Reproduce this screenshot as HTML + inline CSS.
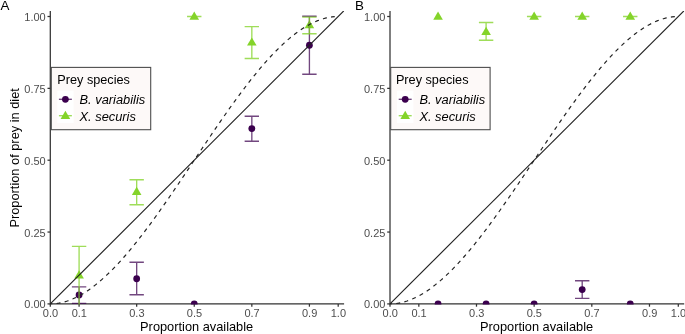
<!DOCTYPE html>
<html><head><meta charset="utf-8"><title>Figure</title>
<style>
html,body{margin:0;padding:0;background:#fff;}
svg{display:block;}
text{font-family:"Liberation Sans",Arial,sans-serif;}
.tick{font-size:11px;fill:#4d4d4d;}
.title{font-size:12.8px;fill:#000;}
.leg{font-size:12.7px;fill:#000;}
.tag{font-size:13.4px;fill:#000;}
.lab{font-size:12.85px;}
</style></head><body>
<svg xmlns="http://www.w3.org/2000/svg" width="685" height="334" viewBox="0 0 685 334">
<rect width="685" height="334" fill="#fff"/>

<path d="M50.30,11.00V303.90H344.10" fill="none" stroke="#333" stroke-width="1.25"/>
<line x1="47.50" x2="50.30" y1="303.90" y2="303.90" stroke="#333" stroke-width="1.25"/>
<text class="tick" text-anchor="end" x="45.70" y="308">0.00</text>
<line x1="47.50" x2="50.30" y1="232.05" y2="232.05" stroke="#333" stroke-width="1.25"/>
<text class="tick" text-anchor="end" x="45.70" y="237">0.25</text>
<line x1="47.50" x2="50.30" y1="160.20" y2="160.20" stroke="#333" stroke-width="1.25"/>
<text class="tick" text-anchor="end" x="45.70" y="165">0.50</text>
<line x1="47.50" x2="50.30" y1="88.35" y2="88.35" stroke="#333" stroke-width="1.25"/>
<text class="tick" text-anchor="end" x="45.70" y="93">0.75</text>
<line x1="47.50" x2="50.30" y1="16.50" y2="16.50" stroke="#333" stroke-width="1.25"/>
<text class="tick" text-anchor="end" x="45.70" y="21">1.00</text>
<line y1="303.90" y2="306.70" x1="50.30" x2="50.30" stroke="#333" stroke-width="1.25"/>
<text class="tick" text-anchor="middle" x="50.50" y="317.10">0.0</text>
<line y1="303.90" y2="306.70" x1="79.09" x2="79.09" stroke="#333" stroke-width="1.25"/>
<text class="tick" text-anchor="middle" x="79.29" y="317.10">0.1</text>
<line y1="303.90" y2="306.70" x1="136.67" x2="136.67" stroke="#333" stroke-width="1.25"/>
<text class="tick" text-anchor="middle" x="136.87" y="317.10">0.3</text>
<line y1="303.90" y2="306.70" x1="194.25" x2="194.25" stroke="#333" stroke-width="1.25"/>
<text class="tick" text-anchor="middle" x="194.45" y="317.10">0.5</text>
<line y1="303.90" y2="306.70" x1="251.83" x2="251.83" stroke="#333" stroke-width="1.25"/>
<text class="tick" text-anchor="middle" x="252.03" y="317.10">0.7</text>
<line y1="303.90" y2="306.70" x1="309.41" x2="309.41" stroke="#333" stroke-width="1.25"/>
<text class="tick" text-anchor="middle" x="309.61" y="317.10">0.9</text>
<line y1="303.90" y2="306.70" x1="338.20" x2="338.20" stroke="#333" stroke-width="1.25"/>
<text class="tick" text-anchor="middle" x="338.40" y="317.10">1.0</text>
<text class="title" text-anchor="middle" x="196.65" y="331.2">Proportion available</text>
<text class="title" text-anchor="middle" transform="translate(18.8,157.85) rotate(-90)">Proportion of prey in diet</text>
<text class="tag" x="0.40" y="9.8">A</text>
<clipPath id="clipA"><rect x="49.90" y="11.0" width="294.20" height="293.52"/></clipPath>
<g clip-path="url(#clipA)">
<circle cx="79.09" cy="294.99" r="3.4" fill="#3b004e"/>
<circle cx="136.67" cy="278.75" r="3.4" fill="#3b004e"/>
<circle cx="194.25" cy="303.90" r="3.4" fill="#3b004e"/>
<circle cx="251.83" cy="128.59" r="3.4" fill="#3b004e"/>
<circle cx="309.41" cy="45.24" r="3.4" fill="#3b004e"/>
<path d="M79.09,270.21L83.89,278.41H74.29Z" fill="#84D42A"/>
<path d="M136.67,186.86L141.47,195.06H131.87Z" fill="#84D42A"/>
<path d="M194.25,11.55L199.05,19.75H189.45Z" fill="#84D42A"/>
<path d="M251.83,37.42L256.63,45.62H247.03Z" fill="#84D42A"/>
<path d="M309.41,20.17L314.21,28.37H304.61Z" fill="#84D42A"/>
<path d="M71.89,286.80H86.29M79.09,286.80V303.33M71.89,303.33H86.29" stroke="#3b004e" stroke-opacity="0.72" stroke-width="1.35" fill="none"/>
<path d="M129.47,262.23H143.87M136.67,262.23V294.70M129.47,294.70H143.87" stroke="#3b004e" stroke-opacity="0.72" stroke-width="1.35" fill="none"/>
<path d="M244.63,116.23H259.03M251.83,116.23V141.23M244.63,141.23H259.03" stroke="#3b004e" stroke-opacity="0.72" stroke-width="1.35" fill="none"/>
<path d="M302.21,16.21H316.61M309.41,16.21V74.27M302.21,74.27H316.61" stroke="#3b004e" stroke-opacity="0.72" stroke-width="1.35" fill="none"/>
<path d="M71.89,246.42H86.29M79.09,246.42V318.27M71.89,318.27H86.29" stroke="#84D42A" stroke-opacity="0.78" stroke-width="1.35" fill="none"/>
<path d="M129.47,179.74H143.87M136.67,179.74V204.75M129.47,204.75H143.87" stroke="#84D42A" stroke-opacity="0.78" stroke-width="1.35" fill="none"/>
<path d="M187.05,16.50H201.45M194.25,16.50V16.50M187.05,16.50H201.45" stroke="#84D42A" stroke-opacity="0.78" stroke-width="1.35" fill="none"/>
<path d="M244.63,26.56H259.03M251.83,26.56V58.46M244.63,58.46H259.03" stroke="#84D42A" stroke-opacity="0.78" stroke-width="1.35" fill="none"/>
<path d="M302.21,17.13H316.61M309.41,17.13V33.74M302.21,33.74H316.61" stroke="#84D42A" stroke-opacity="0.78" stroke-width="1.35" fill="none"/>
<line x1="50.30" y1="303.90" x2="346.84" y2="7.88" stroke="#222" stroke-width="1.15"/>
<path d="M50.30,303.90 L53.14,303.82 L55.99,303.57 L58.83,303.16 L61.68,302.59 L64.52,301.87 L67.37,300.99 L70.21,299.97 L73.06,298.80 L75.90,297.49 L78.74,296.04 L81.59,294.45 L84.43,292.74 L87.28,290.89 L90.12,288.93 L92.97,286.83 L95.81,284.62 L98.66,282.30 L101.50,279.86 L104.34,277.32 L107.19,274.67 L110.03,271.92 L112.88,269.07 L115.72,266.12 L118.57,263.09 L121.41,259.96 L124.26,256.75 L127.10,253.46 L129.94,250.09 L132.79,246.64 L135.63,243.12 L138.48,239.53 L141.32,235.88 L144.17,232.17 L147.01,228.40 L149.86,224.57 L152.70,220.69 L155.54,216.76 L158.39,212.79 L161.23,208.77 L164.08,204.72 L166.92,200.63 L169.77,196.51 L172.61,192.36 L175.46,188.18 L178.30,183.99 L181.14,179.77 L183.99,175.54 L186.83,171.30 L189.68,167.04 L192.52,162.79 L195.37,158.53 L198.21,154.27 L201.06,150.02 L203.90,145.77 L206.74,141.54 L209.59,137.32 L212.43,133.12 L215.28,128.94 L218.12,124.78 L220.97,120.65 L223.81,116.56 L226.66,112.50 L229.50,108.47 L232.34,104.49 L235.19,100.55 L238.03,96.66 L240.88,92.82 L243.72,89.04 L246.57,85.31 L249.41,81.64 L252.26,78.04 L255.10,74.51 L257.94,71.05 L260.79,67.66 L263.63,64.35 L266.48,61.12 L269.32,57.98 L272.17,54.92 L275.01,51.96 L277.86,49.09 L280.70,46.31 L283.55,43.64 L286.39,41.07 L289.23,38.61 L292.08,36.26 L294.92,34.03 L297.77,31.91 L300.61,29.92 L303.46,28.05 L306.30,26.30 L309.15,24.69 L311.99,23.21 L314.83,21.87 L317.68,20.67 L320.52,19.62 L323.37,18.71 L326.21,17.95 L329.06,17.35 L331.90,16.91 L334.75,16.62" fill="none" stroke="#222" stroke-width="1.2" stroke-dasharray="4.0,4.28" stroke-dashoffset="2.0"/>
</g>
<rect x="51.30" y="67.4" width="99.4" height="62.3" fill="#fdf9f8" stroke="#4d4d4d" stroke-width="1.1"/>
<rect x="57.30" y="90.7" width="16.3" height="32.4" fill="#fff"/>
<text class="leg" x="57.30" y="84.30000000000001">Prey species</text>
<circle cx="65.40" cy="99.30" r="3.4" fill="#3b004e"/>
<path d="M65.40,110.75L70.20,118.95H60.60Z" fill="#84D42A"/>
<line x1="58.90" x2="71.90" y1="99.30000000000001" y2="99.30000000000001" stroke="#3b004e" stroke-opacity="0.72" stroke-width="1.35"/>
<line x1="58.90" x2="71.90" y1="115.7" y2="115.7" stroke="#84D42A" stroke-opacity="0.78" stroke-width="1.35"/>
<text class="leg lab" font-style="italic" x="79.50" y="104.2">B. variabilis</text>
<text class="leg lab" font-style="italic" x="79.50" y="120.5">X. securis</text>
<path d="M390.00,11.00V303.90H684.21" fill="none" stroke="#333" stroke-width="1.25"/>
<line x1="387.20" x2="390.00" y1="303.90" y2="303.90" stroke="#333" stroke-width="1.25"/>
<text class="tick" text-anchor="end" x="385.40" y="308">0.00</text>
<line x1="387.20" x2="390.00" y1="232.05" y2="232.05" stroke="#333" stroke-width="1.25"/>
<text class="tick" text-anchor="end" x="385.40" y="237">0.25</text>
<line x1="387.20" x2="390.00" y1="160.20" y2="160.20" stroke="#333" stroke-width="1.25"/>
<text class="tick" text-anchor="end" x="385.40" y="165">0.50</text>
<line x1="387.20" x2="390.00" y1="88.35" y2="88.35" stroke="#333" stroke-width="1.25"/>
<text class="tick" text-anchor="end" x="385.40" y="93">0.75</text>
<line x1="387.20" x2="390.00" y1="16.50" y2="16.50" stroke="#333" stroke-width="1.25"/>
<text class="tick" text-anchor="end" x="385.40" y="21">1.00</text>
<line y1="303.90" y2="306.70" x1="390.00" x2="390.00" stroke="#333" stroke-width="1.25"/>
<text class="tick" text-anchor="middle" x="390.20" y="317.10">0.0</text>
<line y1="303.90" y2="306.70" x1="418.83" x2="418.83" stroke="#333" stroke-width="1.25"/>
<text class="tick" text-anchor="middle" x="419.03" y="317.10">0.1</text>
<line y1="303.90" y2="306.70" x1="476.49" x2="476.49" stroke="#333" stroke-width="1.25"/>
<text class="tick" text-anchor="middle" x="476.69" y="317.10">0.3</text>
<line y1="303.90" y2="306.70" x1="534.15" x2="534.15" stroke="#333" stroke-width="1.25"/>
<text class="tick" text-anchor="middle" x="534.35" y="317.10">0.5</text>
<line y1="303.90" y2="306.70" x1="591.81" x2="591.81" stroke="#333" stroke-width="1.25"/>
<text class="tick" text-anchor="middle" x="592.01" y="317.10">0.7</text>
<line y1="303.90" y2="306.70" x1="649.47" x2="649.47" stroke="#333" stroke-width="1.25"/>
<text class="tick" text-anchor="middle" x="649.67" y="317.10">0.9</text>
<line y1="303.90" y2="306.70" x1="678.30" x2="678.30" stroke="#333" stroke-width="1.25"/>
<text class="tick" text-anchor="middle" x="678.50" y="317.10">1.0</text>
<text class="title" text-anchor="middle" x="536.55" y="331.2">Proportion available</text>
<text class="tag" x="355.00" y="9.8">B</text>
<clipPath id="clipB"><rect x="389.60" y="11.0" width="294.61" height="293.52"/></clipPath>
<g clip-path="url(#clipB)">
<circle cx="438.05" cy="303.90" r="3.4" fill="#3b004e"/>
<circle cx="486.10" cy="303.90" r="3.4" fill="#3b004e"/>
<circle cx="534.15" cy="303.90" r="3.4" fill="#3b004e"/>
<circle cx="582.20" cy="289.53" r="3.4" fill="#3b004e"/>
<circle cx="630.25" cy="303.90" r="3.4" fill="#3b004e"/>
<path d="M438.05,11.55L442.85,19.75H433.25Z" fill="#84D42A"/>
<path d="M486.10,26.78L490.90,34.98H481.30Z" fill="#84D42A"/>
<path d="M534.15,11.55L538.95,19.75H529.35Z" fill="#84D42A"/>
<path d="M582.20,11.55L587.00,19.75H577.40Z" fill="#84D42A"/>
<path d="M630.25,11.55L635.05,19.75H625.45Z" fill="#84D42A"/>
<path d="M575.00,280.76H589.40M582.20,280.76V298.30M575.00,298.30H589.40" stroke="#3b004e" stroke-opacity="0.72" stroke-width="1.35" fill="none"/>
<path d="M478.90,22.54H493.30M486.10,22.54V40.21M478.90,40.21H493.30" stroke="#84D42A" stroke-opacity="0.78" stroke-width="1.35" fill="none"/>
<path d="M526.95,16.50H541.35M534.15,16.50V16.50M526.95,16.50H541.35" stroke="#84D42A" stroke-opacity="0.78" stroke-width="1.35" fill="none"/>
<path d="M575.00,16.50H589.40M582.20,16.50V16.50M575.00,16.50H589.40" stroke="#84D42A" stroke-opacity="0.78" stroke-width="1.35" fill="none"/>
<path d="M623.05,16.50H637.45M630.25,16.50V16.50M623.05,16.50H637.45" stroke="#84D42A" stroke-opacity="0.78" stroke-width="1.35" fill="none"/>
<line x1="390.00" y1="303.90" x2="686.95" y2="7.88" stroke="#222" stroke-width="1.15"/>
<path d="M390.00,303.90 L392.85,303.82 L395.70,303.57 L398.55,303.16 L401.39,302.59 L404.24,301.87 L407.09,300.99 L409.94,299.97 L412.79,298.80 L415.64,297.49 L418.48,296.04 L421.33,294.45 L424.18,292.74 L427.03,290.89 L429.88,288.93 L432.73,286.83 L435.57,284.62 L438.42,282.30 L441.27,279.86 L444.12,277.32 L446.97,274.67 L449.82,271.92 L452.66,269.07 L455.51,266.12 L458.36,263.09 L461.21,259.96 L464.06,256.75 L466.91,253.46 L469.76,250.09 L472.60,246.64 L475.45,243.12 L478.30,239.53 L481.15,235.88 L484.00,232.17 L486.85,228.40 L489.69,224.57 L492.54,220.69 L495.39,216.76 L498.24,212.79 L501.09,208.77 L503.94,204.72 L506.78,200.63 L509.63,196.51 L512.48,192.36 L515.33,188.18 L518.18,183.99 L521.03,179.77 L523.87,175.54 L526.72,171.30 L529.57,167.04 L532.42,162.79 L535.27,158.53 L538.12,154.27 L540.97,150.02 L543.81,145.77 L546.66,141.54 L549.51,137.32 L552.36,133.12 L555.21,128.94 L558.06,124.78 L560.90,120.65 L563.75,116.56 L566.60,112.50 L569.45,108.47 L572.30,104.49 L575.15,100.55 L577.99,96.66 L580.84,92.82 L583.69,89.04 L586.54,85.31 L589.39,81.64 L592.24,78.04 L595.09,74.51 L597.93,71.05 L600.78,67.66 L603.63,64.35 L606.48,61.12 L609.33,57.98 L612.18,54.92 L615.02,51.96 L617.87,49.09 L620.72,46.31 L623.57,43.64 L626.42,41.07 L629.27,38.61 L632.11,36.26 L634.96,34.03 L637.81,31.91 L640.66,29.92 L643.51,28.05 L646.36,26.30 L649.20,24.69 L652.05,23.21 L654.90,21.87 L657.75,20.67 L660.60,19.62 L663.45,18.71 L666.30,17.95 L669.14,17.35 L671.99,16.91 L674.84,16.62" fill="none" stroke="#222" stroke-width="1.2" stroke-dasharray="4.0,4.28" stroke-dashoffset="2.0"/>
</g>
<rect x="390.70" y="67.4" width="99.4" height="62.3" fill="#fdf9f8" stroke="#4d4d4d" stroke-width="1.1"/>
<rect x="397.10" y="90.7" width="16.3" height="32.4" fill="#fff"/>
<text class="leg" x="395.90" y="84.30000000000001">Prey species</text>
<circle cx="405.20" cy="99.30" r="3.4" fill="#3b004e"/>
<path d="M405.20,110.75L410.00,118.95H400.40Z" fill="#84D42A"/>
<line x1="398.70" x2="411.70" y1="99.30000000000001" y2="99.30000000000001" stroke="#3b004e" stroke-opacity="0.72" stroke-width="1.35"/>
<line x1="398.70" x2="411.70" y1="115.7" y2="115.7" stroke="#84D42A" stroke-opacity="0.78" stroke-width="1.35"/>
<text class="leg lab" font-style="italic" x="419.40" y="104.2">B. variabilis</text>
<text class="leg lab" font-style="italic" x="419.40" y="120.5">X. securis</text>
</svg></body></html>
